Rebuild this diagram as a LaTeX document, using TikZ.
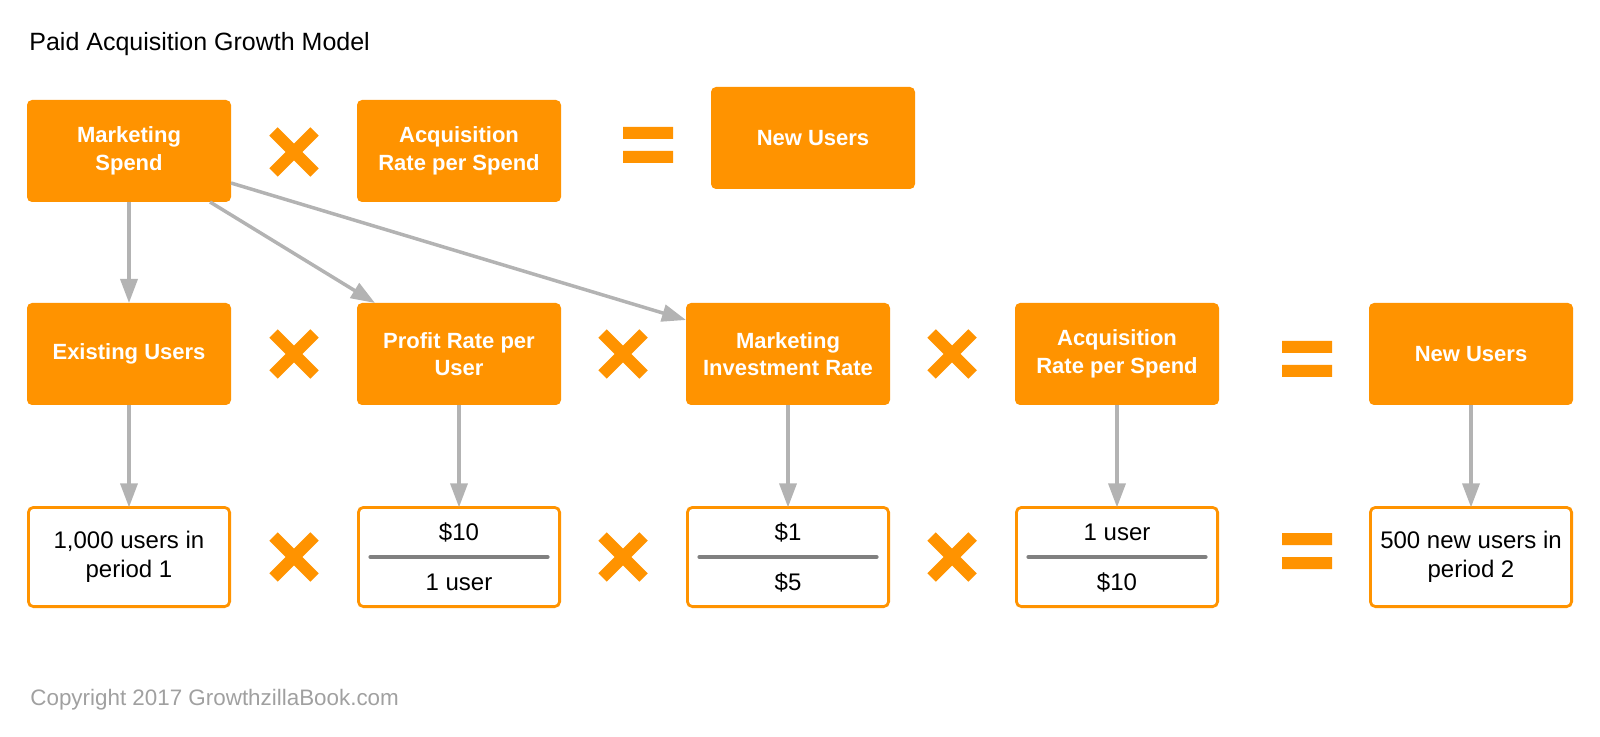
\documentclass[tikz,border=0pt]{standalone}
\usepackage{fontspec}
\setmainfont{Liberation Sans}
\usepackage{tikz}
\usetikzlibrary{shapes,arrows.meta}
\definecolor{boxorange}{HTML}{FF9300}
\definecolor{linkgray}{HTML}{B3B3B3}
\definecolor{fracgray}{HTML}{808080}
\definecolor{notegray}{HTML}{A0A0A0}
\tikzset{
  fillbox/.style={rectangle, rounded corners=2.5pt, fill=boxorange, text=white,
    minimum width=102pt, minimum height=51pt, inner sep=0pt, outer sep=0pt,
    align=center, font=\fontsize{11}{13.8}\selectfont\bfseries},
  valbox/.style={rectangle, rounded corners=2.5pt, draw=boxorange, line width=1.4pt, fill=white,
    minimum width=100.6pt, minimum height=49.6pt, inner sep=0pt, outer sep=0pt,
    align=center, font=\fontsize{12}{14.5}\selectfont},
  valtext/.style={inner sep=0pt, font=\fontsize{12}{14.5}\selectfont},
  link/.style={draw=linkgray, line width=1.75pt, -{Triangle[length=12pt,width=8.5pt]}},
  fracline/.style={draw=fracgray, line width=2pt, line cap=round},
  timesmark/.style={draw=boxorange, line width=6pt}
}
\newcommand\drawtimes[2]{\draw[timesmark] (#1-20.5,#2-20.5) -- (#1+20.5,#2+20.5) (#1-20.5,#2+20.5) -- (#1+20.5,#2-20.5);}
\newcommand\drawequals[2]{\fill[boxorange] (#1-25,#2-18) rectangle (#1+25,#2-6) (#1-25,#2+6) rectangle (#1+25,#2+18);}
\begin{document}
\begin{tikzpicture}[x=0.5pt,y=-0.5pt]
\useasboundingbox (0,0) rectangle (1600,737);

% to write title and copyright
\node [anchor=base west, inner sep=0pt, font=\fontsize{12.5}{15}\selectfont] (title) at (29,51) {Paid Acquisition Growth Model};
\node [anchor=base west, inner sep=0pt, text=notegray, font=\fontsize{11.2}{13}\selectfont] (note) at (30,705) {Copyright 2017 GrowthzillaBook.com};

% first row
\node [fillbox] (ms) at (129,151) {Marketing\\Spend};
\node [fillbox] (ars) at (459,151) {Acquisition\\Rate per Spend};
\node [fillbox] (nu) at (813,138) {New Users};
\drawtimes{294}{152}
\drawequals{648}{145}

% second row
\node [fillbox] (eu) at (129,354) {Existing Users};
\node [fillbox] (pru) at (459,354) {Profit Rate per\\User};
\node [fillbox] (mir) at (788,354) {Marketing\\Investment Rate};
\node [fillbox] (ars2) at (1117,354) {Acquisition\\Rate per Spend};
\node [fillbox] (nu2) at (1471,354) {New Users};
\drawtimes{294}{354}
\drawtimes{623}{354}
\drawtimes{952}{354}
\drawequals{1307}{359}

% third row
\node [valbox] (v1) at (129,557) {1,000 users in\\period 1};
\node [valbox] (v2) at (459,557) {};
\node [valtext] (v2top) at ([yshift=12.5pt]v2.center) {\$10};
\node [valtext] (v2bot) at ([yshift=-12.5pt]v2.center) {1 user};
\node [valbox] (v3) at (788,557) {};
\node [valtext] (v3top) at ([yshift=12.5pt]v3.center) {\$1};
\node [valtext] (v3bot) at ([yshift=-12.5pt]v3.center) {\$5};
\node [valbox] (v4) at (1117,557) {};
\node [valtext] (v4top) at ([yshift=12.5pt]v4.center) {1 user};
\node [valtext] (v4bot) at ([yshift=-12.5pt]v4.center) {\$10};
\node [valbox] (v5) at (1471,557) {500 new users in\\period 2};
\drawtimes{294}{557}
\drawtimes{623}{557}
\drawtimes{952}{557}
\drawequals{1307}{551}

% to draw fraction lines
\draw [fracline] ([xshift=6pt]v2.west) -- ([xshift=-6pt]v2.east);
\draw [fracline] ([xshift=6pt]v3.west) -- ([xshift=-6pt]v3.east);
\draw [fracline] ([xshift=6pt]v4.west) -- ([xshift=-6pt]v4.east);

% to draw arrows
\draw [link] (ms) -- (eu);
\draw [link] ([xshift=40.5pt]ms.south) -- ([xshift=-42pt]pru.north);
\draw [link] ([yshift=-16pt]ms.east) -- ([yshift=17pt]mir.west);
\draw [link] (eu) -- (v1);
\draw [link] (pru) -- (v2);
\draw [link] (mir) -- (v3);
\draw [link] (ars2) -- (v4);
\draw [link] (nu2) -- (v5);
\end{tikzpicture}
\end{document}
